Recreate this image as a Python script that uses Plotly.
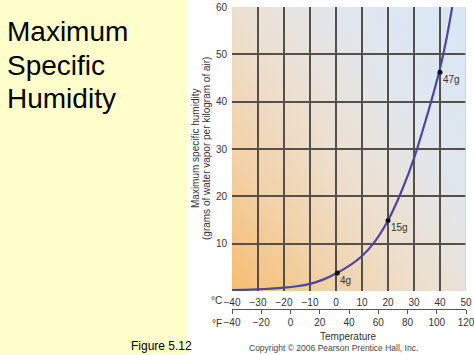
import base64
import plotly.graph_objects as go

# ---------------- data ----------------
C_TICKS = [-40, -30, -20, -10, 0, 10, 20, 30, 40, 50]
F_TICKS = [-40, -20, 0, 20, 40, 60, 80, 100, 120]
Y_TICKS = [10, 20, 30, 40, 50, 60]

CURVE_T = [-40, -35, -30, -25, -20, -15, -10, -5, 0, 5, 10, 15, 20, 25, 30, 35, 37.5, 40, 42.5, 44.7]
CURVE_Q = [0.2, 0.25, 0.35, 0.5, 0.7, 1.0, 1.5, 2.4, 3.7, 5.3, 7.4, 10.5, 14.9, 20.8, 28.0, 37.0, 41.8, 47.0, 53.3, 60.0]

POINT_T = [0.5, 20, 40]
POINT_Q = [3.8, 14.9, 46.2]
POINT_LABELS = ["4g", "15g", "47g"]

TITLE_LINES = ["Maximum", "Specific", "Humidity"]
Y_TITLE_1 = "Maximum specific humidity"
Y_TITLE_2 = "(grams of water vapor per kilogram of air)"
X_TITLE = "Temperature"
FIG_LABEL = "Figure 5.12"
COPYRIGHT = "Copyright © 2006 Pearson Prentice Hall, Inc."

# ---------------- layout geometry ----------------
W, H = 474, 355
ML, MR, MT, MB = 232, 8, 7, 46
PW, PH = W - ML - MR, H - MT - MB
PLOT_BOTTOM = 291  # pixel row of the C axis (y = 0)
FONT = "Liberation Sans, Arial, Helvetica, sans-serif"


def px_x(p):
    return (p - ML) / PW


def px_y(p):
    return (H - MB - p) / PH


ydom0 = px_y(PLOT_BOTTOM)

# gradient background image
svg = (
    '<svg xmlns="http://www.w3.org/2000/svg" width="300" height="300" viewBox="0 0 300 300" '
    'preserveAspectRatio="none"><defs><linearGradient id="g" x1="0" y1="1" x2="1" y2="0.15">'
    '<stop offset="0" stop-color="#F6BC70"/>'
    '<stop offset="0.25" stop-color="#F2D2A8"/>'
    '<stop offset="0.5" stop-color="#ECE0D0"/>'
    '<stop offset="0.75" stop-color="#E1E7EE"/>'
    '<stop offset="1" stop-color="#DAE8F6"/>'
    '</linearGradient></defs><rect width="300" height="300" fill="url(#g)"/></svg>'
)
svg_uri = "data:image/svg+xml;base64," + base64.b64encode(svg.encode()).decode()

fig = go.Figure()

fig.add_trace(go.Scatter(
    x=CURVE_T, y=CURVE_Q, mode="lines",
    line=dict(color="#4B46A0", width=2.2, shape="spline", smoothing=0.8),
    hoverinfo="skip", showlegend=False,
))
fig.add_trace(go.Scatter(
    x=POINT_T, y=POINT_Q, mode="markers", marker=dict(color="#111111", size=5),
    hoverinfo="skip", showlegend=False,
))
# invisible trace to carry the Fahrenheit axis
fig.add_trace(go.Scatter(
    x=[F_TICKS[0], F_TICKS[-1]], y=[0, 0], xaxis="x2", yaxis="y", mode="markers",
    marker=dict(opacity=0), hoverinfo="skip", showlegend=False,
))

GRID = "#54504c"
fig.update_layout(
    width=W, height=H,
    margin=dict(l=ML, r=MR, t=MT, b=MB, autoexpand=False),
    paper_bgcolor="white",
    plot_bgcolor="rgba(0,0,0,0)",
    font=dict(family=FONT, size=10, color="#333333"),
    xaxis=dict(
        range=[-40, 50], tickvals=C_TICKS, showgrid=True, gridcolor=GRID, gridwidth=1.7,
        zeroline=False, showline=False, ticks="", ticklabelstandoff=4, automargin=False,
        ticklabeloverflow="allow",
        tickfont=dict(size=10, color="#333333"), anchor="y",
    ),
    xaxis2=dict(
        range=[F_TICKS[0], F_TICKS[-1]], domain=[0, (463 - ML) / PW], tickvals=F_TICKS,
        overlaying="x", anchor="free", position=0, side="bottom", automargin=False,
        ticklabeloverflow="allow",
        showgrid=False, zeroline=False, showline=True, linecolor="#555555", linewidth=1,
        ticks="outside", ticklen=4, tickcolor="#555555", tickwidth=1,
        tickfont=dict(size=10, color="#333333"),
    ),
    yaxis=dict(
        range=[0, 60], tickvals=Y_TICKS, domain=[ydom0, 1], showgrid=True, automargin=False,
        ticklabeloverflow="allow",
        gridcolor=GRID, gridwidth=1.7, zeroline=False, showline=False, ticks="",
        ticklabelstandoff=4, tickfont=dict(size=10, color="#333333"),
    ),
    images=[dict(
        source=svg_uri, xref="x", yref="y", x=-40, y=60, sizex=90, sizey=60,
        sizing="stretch", layer="below", xanchor="left", yanchor="top",
    )],
    shapes=[
        dict(type="rect", xref="paper", yref="paper", x0=px_x(-5), x1=px_x(187),
             y0=px_y(H + 5), y1=px_y(-5), fillcolor="#FFFFCC", line=dict(width=0), layer="below"),
        dict(type="line", xref="x", yref="y", x0=50, x1=50, y0=0, y1=60,
             line=dict(color="#C9D2DA", width=1.5), layer="above"),
    ],
)

ann = []
title_y = [31.5, 65, 98.5]
for t, yp in zip(TITLE_LINES, title_y):
    ann.append(dict(text=t, xref="paper", yref="paper", x=px_x(5), y=px_y(yp),
                    xanchor="left", yanchor="middle", showarrow=False,
                    font=dict(size=28, color="#000000", family=FONT)))
ann.append(dict(text=Y_TITLE_1, xref="paper", yref="paper", x=px_x(195), y=px_y(149),
                xanchor="center", yanchor="middle", textangle=-90, showarrow=False,
                font=dict(size=10, color="#333333")))
ann.append(dict(text=Y_TITLE_2, xref="paper", yref="paper", x=px_x(206), y=px_y(149),
                xanchor="center", yanchor="middle", textangle=-90, showarrow=False,
                font=dict(size=10, color="#333333")))
ann.append(dict(text="°C", xref="paper", yref="paper", x=px_x(216.5), y=px_y(300),
                xanchor="center", yanchor="middle", showarrow=False, font=dict(size=10, color="#333333")))
ann.append(dict(text="°F", xref="paper", yref="paper", x=px_x(216.5), y=px_y(323),
                xanchor="center", yanchor="middle", showarrow=False, font=dict(size=10, color="#333333")))
ann.append(dict(text=X_TITLE, xref="paper", yref="paper", x=px_x(348), y=px_y(336.5),
                xanchor="center", yanchor="middle", showarrow=False, font=dict(size=10, color="#333333")))
ann.append(dict(text=FIG_LABEL, xref="paper", yref="paper", x=px_x(129), y=px_y(346),
                xanchor="left", yanchor="middle", showarrow=False, font=dict(size=12, color="#000000")))
ann.append(dict(text=COPYRIGHT, xref="paper", yref="paper", x=px_x(247), y=px_y(348),
                xanchor="left", yanchor="middle", showarrow=False, font=dict(size=8.5, color="#444444")))
for t, q, lab in zip(POINT_T, POINT_Q, POINT_LABELS):
    ann.append(dict(text=lab, xref="x", yref="y", x=t, y=q, xanchor="left", yanchor="top",
                    xshift=1, yshift=0, showarrow=False, font=dict(size=10, color="#333333")))
fig.update_layout(annotations=ann)

fig.write_html("out.html")
